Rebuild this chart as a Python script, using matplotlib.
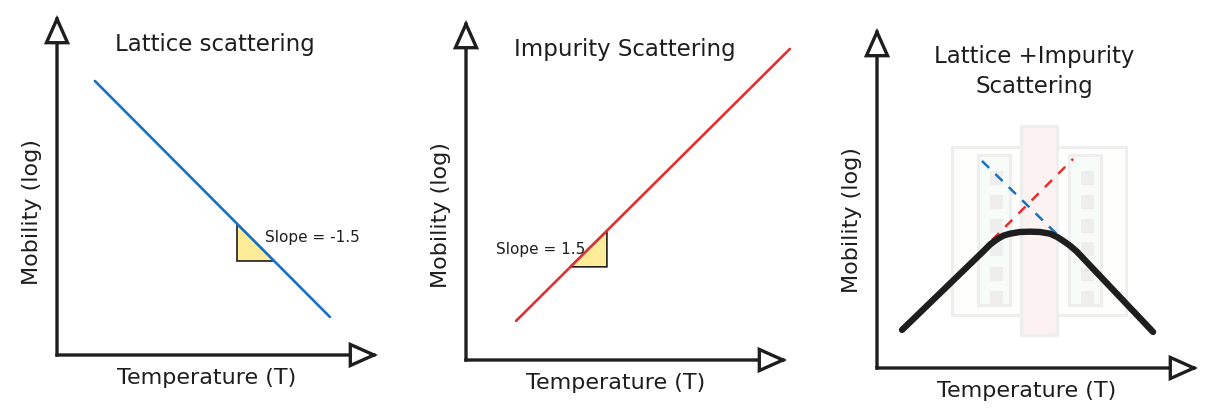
import matplotlib
matplotlib.use("Agg")
import matplotlib.pyplot as plt
from matplotlib.patches import Rectangle

plt.rcParams['font.family'] = ['DejaVu Sans']

INK = '#1e1e1e'
BLUE = '#1971c2'
RED = '#e03131'
YELLOW = '#ffec99'

# ---- data (arbitrary units: temperature on x, log mobility on y) ----
titles = ['Lattice scattering', 'Impurity Scattering', 'Lattice +Impurity\nScattering']
xlabel = 'Temperature (T)'
ylabel = 'Mobility (log)'

lattice_T = [11.8, 85.0]
lattice_mu = [80.6, 11.2]
lattice_tri_T = [56.1, 56.1, 67.6]
lattice_tri_mu = [38.5, 27.6, 27.6]
lattice_slope_label = 'Slope = -1.5'

impurity_T = [15.6, 100.9]
impurity_mu = [11.5, 91.5]
impurity_tri_T = [32.4, 43.9, 43.9]
impurity_tri_mu = [27.4, 37.9, 27.4]
impurity_slope_label = 'Slope = 1.5'

combined_T = [7.8, 33.1, 35.2, 37.3, 39.3, 41.4, 44.5, 47.7, 50.8, 53.9, 56.0, 58.0,
              60.1, 62.2, 86.0]
combined_mu = [11.2, 34.3, 36.3, 37.8, 38.9, 39.5, 40.0, 40.1, 40.0, 39.5, 38.6, 37.4,
               36.0, 34.3, 10.6]
combined_lat_T = [32.7, 57.3]
combined_lat_mu = [60.9, 38.2]
combined_imp_T = [35.8, 61.1]
combined_imp_mu = [37.6, 61.5]

# faint background sketch in third panel (x0, x1, y0, y1)
ghost_outer = (23.4, 77.6, 15.6, 65.0)
ghost_center = (44.9, 56.1, 9.7, 71.2)
ghost_cols = [(31.5, 41.4, 18.5, 62.6), (59.8, 69.8, 18.5, 62.6)]
ghost_sq_x = [(35.3, 39.3), (63.6, 67.6)]
ghost_sq_y = [55.9, 48.8, 41.8, 35.0, 27.6, 20.6]

# ---- layout (pixels) ----
W, H = 1213, 420
panels_px = [(57, 355), (466, 360), (877, 368)]
AW, AH = 321, 340
TITLE_FS = 16.5
LABEL_FS = 16

fig = plt.figure(figsize=(W / 100, H / 100), dpi=100)
fig.patch.set_facecolor('white')

axes = []
for (ox, oy) in panels_px:
    ax = fig.add_axes([ox / W, (H - oy) / H, AW / W, AH / H])
    ax.set_xlim(0, 100)
    ax.set_ylim(0, 100)
    ax.axis('off')
    axes.append(ax)


def draw_axes(ax):
    for end in [(0, 1), (1, 0)]:
        ax.annotate('', xy=end, xytext=(0, 0), xycoords='axes fraction',
                    textcoords='axes fraction', annotation_clip=False,
                    arrowprops=dict(arrowstyle='-|>,head_length=0.85,head_width=0.38',
                                    mutation_scale=20, fc='white', ec=INK, lw=2.4,
                                    shrinkA=0, shrinkB=0, capstyle='projecting',
                                    joinstyle='miter'))
    ax.text(46.7, -6.8, xlabel, ha='center', va='center', fontsize=LABEL_FS, color=INK,
            clip_on=False)


# Panel 1
ax = axes[0]
draw_axes(ax)
ax.text(-7.8, 42.1, ylabel, rotation=90, ha='center', va='center', fontsize=LABEL_FS,
        color=INK, clip_on=False)
ax.fill(lattice_tri_T, lattice_tri_mu, facecolor=YELLOW, edgecolor=INK, lw=1.2, zorder=2)
ax.plot(lattice_T, lattice_mu, color=BLUE, lw=1.9, solid_capstyle='round', zorder=3,
        clip_on=False)
ax.text(64.8, 34.7, lattice_slope_label, ha='left', va='center', fontsize=11, color=INK)
ax.text(49.2, 91.2, titles[0], ha='center', va='center', fontsize=TITLE_FS, color=INK)

# Panel 2
ax = axes[1]
draw_axes(ax)
ax.text(-7.8, 42.6, ylabel, rotation=90, ha='center', va='center', fontsize=LABEL_FS,
        color=INK, clip_on=False)
ax.fill(impurity_tri_T, impurity_tri_mu, facecolor=YELLOW, edgecolor=INK, lw=1.2, zorder=2)
ax.plot(impurity_T, impurity_mu, color=RED, lw=1.9, solid_capstyle='round', zorder=3,
        clip_on=False)
ax.text(9.3, 32.6, impurity_slope_label, ha='left', va='center', fontsize=11, color=INK,
        zorder=4)
ax.text(49.5, 91.2, titles[1], ha='center', va='center', fontsize=TITLE_FS, color=INK)

# Panel 3
ax = axes[2]
draw_axes(ax)
ax.text(-7.8, 43.5, ylabel, rotation=90, ha='center', va='center', fontsize=LABEL_FS,
        color=INK, clip_on=False)


def rect(ax, r, fc, ec, lw=1.5, z=0.5):
    x0, x1, y0, y1 = r
    ax.add_patch(Rectangle((x0, y0), x1 - x0, y1 - y0, facecolor=fc, edgecolor=ec,
                           lw=lw, zorder=z))


rect(ax, ghost_outer, '#fefefd', '#eeeeee', lw=2.2, z=0.5)
for c in ghost_cols:
    rect(ax, c, '#f8fcf8', '#eeeeee', lw=2.2, z=0.6)
for (sx0, sx1) in ghost_sq_x:
    for sy in ghost_sq_y:
        rect(ax, (sx0, sx1, sy - 2.0, sy + 2.0), '#eeeeee', 'none', lw=0, z=0.7)
rect(ax, ghost_center, '#fdf2f2', '#eeeeee', lw=2.2, z=0.8)

ax.plot(combined_lat_T, combined_lat_mu, color=BLUE, lw=1.8, dashes=(4, 3.5), zorder=2)
ax.plot(combined_imp_T, combined_imp_mu, color=RED, lw=1.8, dashes=(4, 3.5), zorder=2)
ax.plot(combined_T, combined_mu, color=INK, lw=4.6, solid_capstyle='round',
        solid_joinstyle='round', zorder=3)
ax.text(49.0, 87.1, titles[2], ha='center', va='center', fontsize=TITLE_FS, color=INK,
        linespacing=1.4)

fig.savefig('out.png', dpi=100, facecolor='white')
